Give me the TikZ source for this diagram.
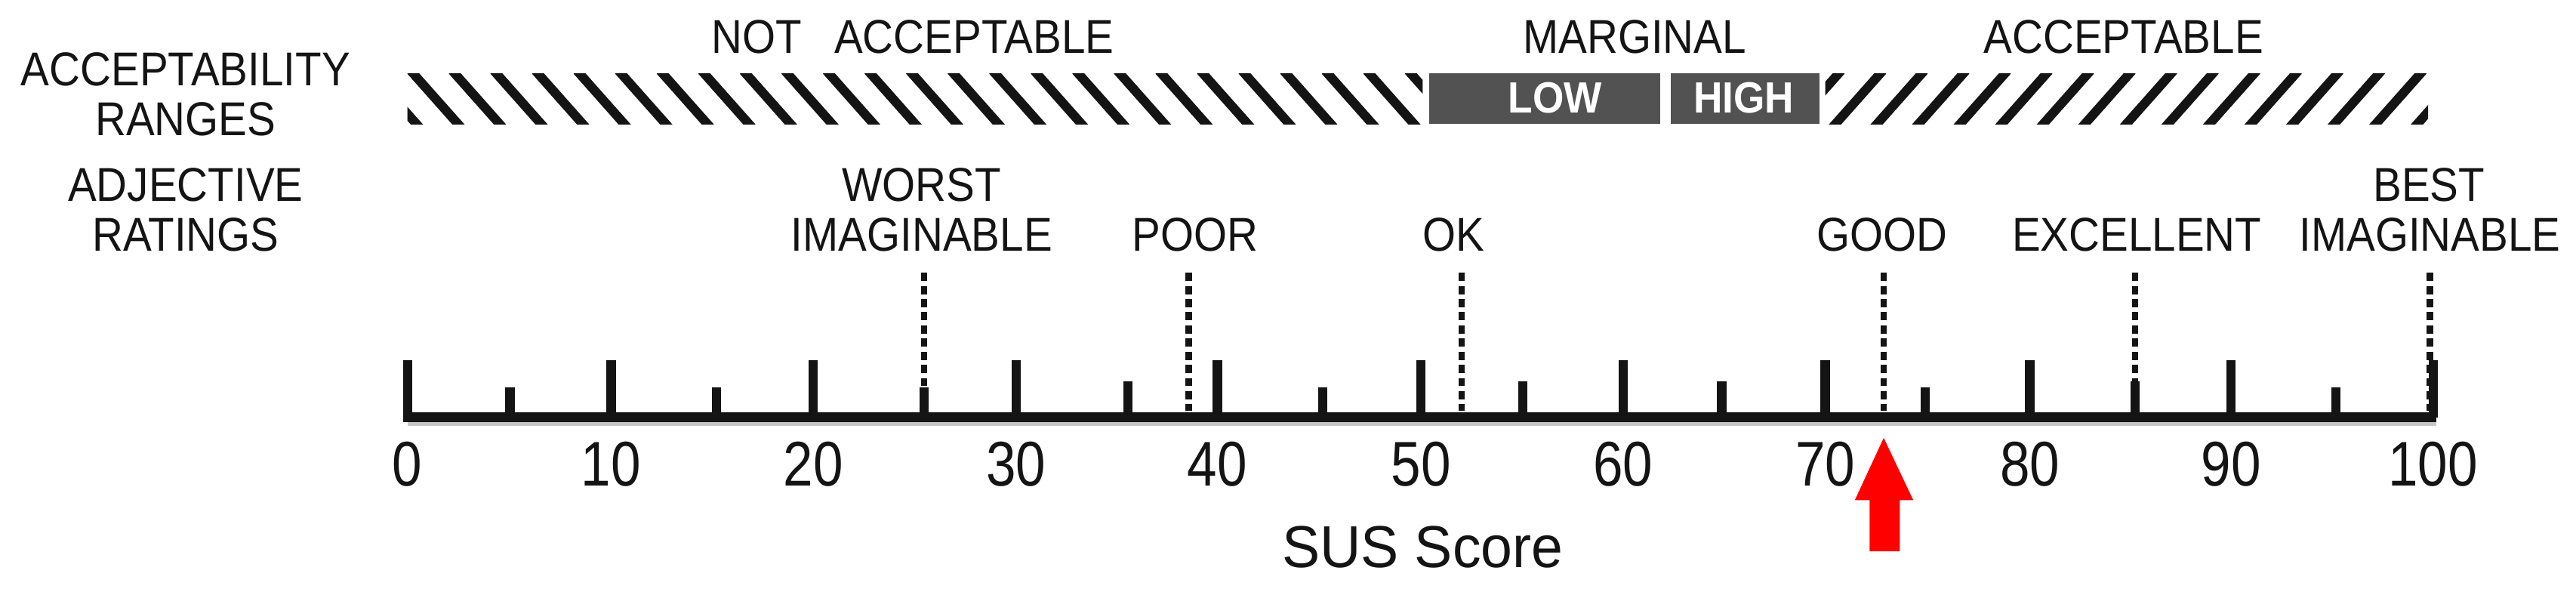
\documentclass[tikz,border=0pt]{standalone}
\usepackage{fontspec}
\setmainfont{Liberation Sans}
\newfontfamily\lblfont{Liberation Sans}[FakeStretch=0.9]
\newfontfamily\numfont{Liberation Sans}[FakeStretch=0.85]
\newfontfamily\susfont{Liberation Sans}[FakeStretch=0.96]
\newfontfamily\lhfont{Liberation Sans}[FakeStretch=0.92]
\definecolor{boxgray}{RGB}{82,82,82}
\definecolor{inkblack}{RGB}{20,20,20}
\begin{document}
\begin{tikzpicture}[x=0.5pt,y=-0.5pt,
  lbl/.style={inner sep=0pt, anchor=base, text=inkblack, font=\lblfont\fontsize{14.45}{15}\selectfont},
  numlbl/.style={inner sep=0pt, anchor=base, text=inkblack, font=\numfont\fontsize{19.2}{20}\selectfont},
  suslbl/.style={inner sep=0pt, anchor=base, text=inkblack, font=\susfont\fontsize{18}{19}\selectfont},
  boxlbl/.style={inner sep=0pt, text=white, font=\lhfont\bfseries\fontsize{13.3}{14}\selectfont},
  majortick/.style={draw=inkblack, line width=2.8pt},
  minortick/.style={draw=inkblack, line width=2.8pt},
  ratingline/.style={draw=inkblack, line width=1.9pt, dash pattern=on 2.5pt off 1.5pt},
  hatchline/.style={draw=inkblack, line width=2.8pt},
  axisline/.style={draw=inkblack, line width=2.9pt},
  rangebox/.style={fill=boxgray, draw=none}
]
\useasboundingbox (0,0) rectangle (1568,360);

% ---- side titles
\node[lbl] (accA) at (113,52) {ACCEPTABILITY};
\node[lbl] (accB) at (113,82.7) {RANGES};
\node[lbl] (adjA) at (113,122.5) {ADJECTIVE};
\node[lbl] (adjB) at (113,153) {RATINGS};

% ---- range titles
\node[lbl] (notacc) at (555.5,32.5) {NOT\hspace{10pt}ACCEPTABLE};
\node[lbl] (marg) at (995,32.5) {MARGINAL};
\node[lbl] (acc) at (1292.6,32.5) {ACCEPTABLE};

% ---- hatched bars
\begin{scope}
  \clip (248,44.8) rectangle (866,75.8);
  \foreach \k in {-2,...,25} {
    \draw[hatchline] ({250+\k*25.3},43) -- ++(30.7,34.6);
  }
\end{scope}
\begin{scope}
  \clip (1111,44.8) rectangle (1478,75.8);
  \foreach \k in {-2,...,16} {
    \draw[hatchline] ({1090+\k*25.3},77.6) -- ++(30.7,-34.6);
  }
\end{scope}

% ---- marginal boxes
\fill[rangebox] (870,44.8) rectangle (1010.5,75.3);
\fill[rangebox] (1017,44.8) rectangle (1107.6,75.3);
\node[boxlbl] (low) at (946.5,59.5) {LOW};
\node[boxlbl] (high) at (1061.5,59.5) {HIGH};

% ---- adjective labels
\node[lbl] (worstA) at (561,122.5) {WORST};
\node[lbl] (worstB) at (561,153) {IMAGINABLE};
\node[lbl] (poor) at (727.5,153) {POOR};
\node[lbl] (ok) at (885,153) {OK};
\node[lbl] (good) at (1145.7,153) {GOOD};
\node[lbl] (exc) at (1300.6,153) {EXCELLENT};
\node[lbl] (bestA) at (1478.5,122.5) {BEST};
\node[lbl] (bestB) at (1479,153) {IMAGINABLE};

% ---- dotted rating lines
\foreach \xx in {562.5,723.5,889.8,1146.6,1299.6,1479} {
  \draw[ratingline] (\xx,166) -- (\xx,250);
}

% ---- axis shadow, ticks and axis
\draw[gray!45, line width=2.5pt] (248,256.5) -- (1483,256.5);
\foreach \xx in {248,372,495,618.5,741,865,988,1111,1235.5,1358,1481} {
  \draw[majortick] (\xx,254) -- (\xx,219);
}
\foreach \xx in {310.4,436,562.5,805,1172,1422} {
  \draw[minortick] (\xx,254) -- (\xx,235.8);
}
\foreach \xx in {686.5,927,1048,1299.6} {
  \draw[minortick] (\xx,254) -- (\xx,232);
}
\draw[axisline] (245.5,254) -- (1483,254);

% ---- numbers
\foreach \v/\xx in {0/248,10/372,20/495,30/618.5,40/741,50/865,60/988,70/1111,80/1235.5,90/1358,100/1481} {
  \node[numlbl] (n\v) at (\xx,295.5) {\v};
}
\node[suslbl] (sus) at (866,345.5) {SUS Score};

% ---- red arrow
\fill[red] (1146.6,266.5) -- (1164.6,304.4) -- (1156.4,304.4) -- (1156.4,335.5)
  -- (1138,335.5) -- (1138,304.4) -- (1129,304.4) -- cycle;
\end{tikzpicture}
\end{document}
